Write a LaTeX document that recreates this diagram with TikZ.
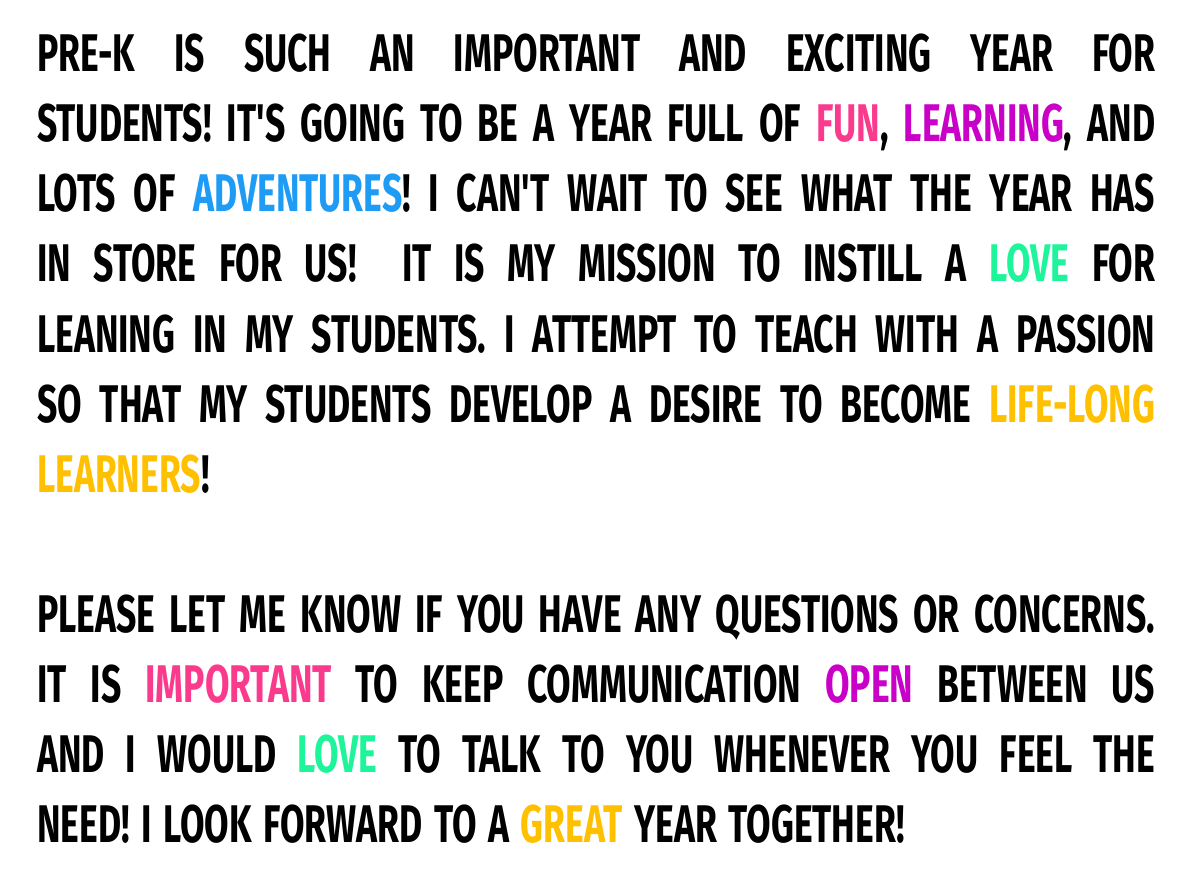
\documentclass[tikz,border=0pt]{standalone}
\usepackage{fontspec}
\newfontfamily\hand{Fira Sans}[FakeStretch=0.67]
\definecolor{cpink}{HTML}{FA3A8C}
\definecolor{cmag}{HTML}{C800C8}
\definecolor{cblue}{HTML}{1E9BF5}
\definecolor{cgreen}{HTML}{1EF59B}
\definecolor{cyel}{HTML}{FFC000}
\tikzset{ln/.style={anchor=base west,inner sep=0pt,font=\hand\bfseries\fontsize{53}{60}\selectfont}}
\newcommand\jline[3]{\node[ln] (#1) at (37,-#2) {\hbox to 1118pt{\spaceskip=0.22em plus 1fil minus 0.1em\relax #3}};}
\newcommand\lline[3]{\node[ln] (#1) at (37,-#2) {\hbox to 1118pt{\spaceskip=0.22em\relax #3\hskip 0pt plus 1fill\relax}};}
\begin{document}
\begin{tikzpicture}[x=1pt,y=1pt]
\useasboundingbox[fill=white] (0,0) rectangle (1191,-893);
\jline{a}{72}{PRE-K IS SUCH AN IMPORTANT AND EXCITING YEAR FOR}
\jline{b}{142}{STUDENTS! IT'S GOING TO BE A YEAR FULL OF \textcolor{cpink}{FUN}, \textcolor{cmag}{LEARNING}, AND}
\jline{c}{212}{LOTS OF \textcolor{cblue}{ADVENTURES}! I CAN'T WAIT TO SEE WHAT THE YEAR HAS}
\jline{d}{282}{IN STORE FOR US! \ IT IS MY MISSION TO INSTILL A \textcolor{cgreen}{LOVE} FOR}
\jline{e}{352}{LEANING IN MY STUDENTS. I ATTEMPT TO TEACH WITH A PASSION}
\jline{f}{422}{SO THAT MY STUDENTS DEVELOP A DESIRE TO BECOME \textcolor{cyel}{LIFE-LONG}}
\lline{g}{492}{\textcolor{cyel}{LEARNERS}!}
\jline{h}{632}{PLEASE LET ME KNOW IF YOU HAVE ANY QUESTIONS OR CONCERNS.}
\jline{i}{702}{IT IS \textcolor{cpink}{IMPORTANT} TO KEEP COMMUNICATION \textcolor{cmag}{OPEN} BETWEEN US}
\jline{j}{772}{AND I WOULD \textcolor{cgreen}{LOVE} TO TALK TO YOU WHENEVER YOU FEEL THE}
\lline{k}{842}{NEED! I LOOK FORWARD TO A \textcolor{cyel}{GREAT} YEAR TOGETHER!}
\end{tikzpicture}
\end{document}
